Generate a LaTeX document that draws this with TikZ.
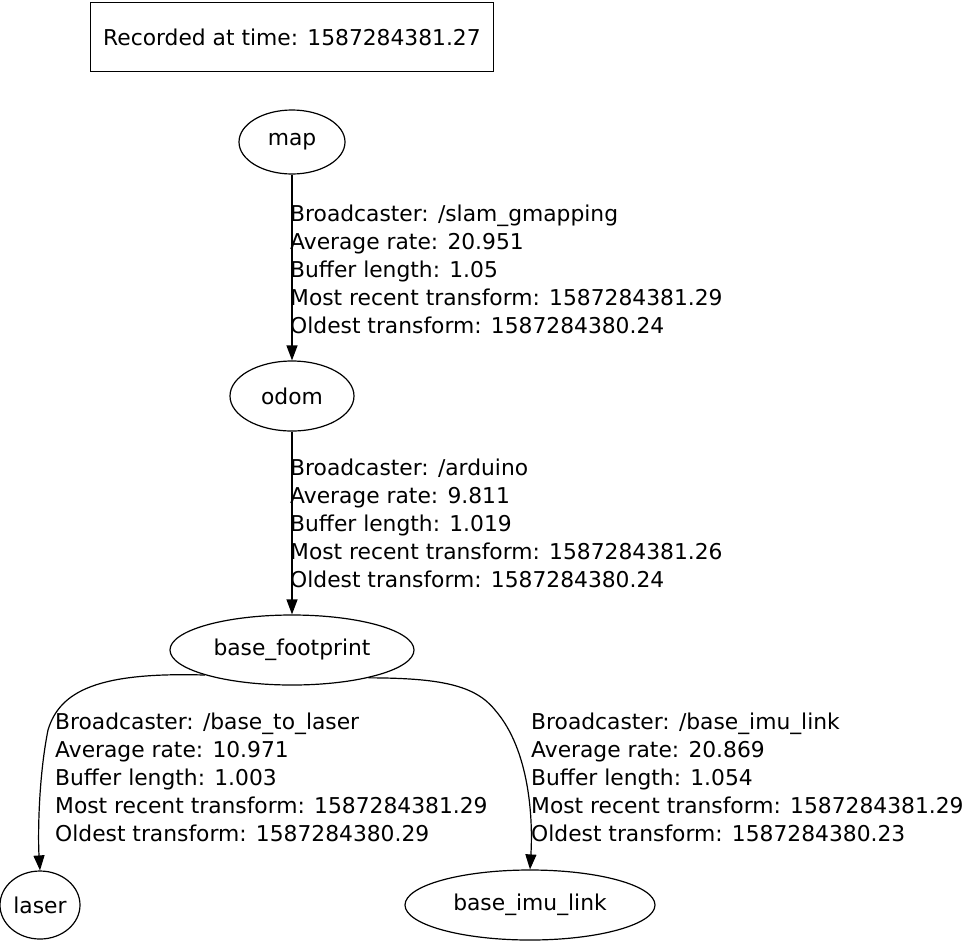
\documentclass[tikz,border=0pt]{standalone}
\usepackage{fontspec}
\setmainfont{DejaVu Sans}
\usetikzlibrary{shapes.geometric,arrows.meta}
\begin{document}
\begin{tikzpicture}[x=1pt,y=-1pt,
  nd/.style={draw,ellipse,line width=1.2pt,inner sep=0pt,font=\fontsize{21.8}{25}\selectfont},
  lbl/.style={anchor=west,align=left,inner sep=0pt,font=\fontsize{21.8}{28}\selectfont},
  ed/.style={line width=1.2pt,-{Triangle[length=15pt,width=11pt]}}]
\useasboundingbox (0,0) rectangle (965,940);
\node[draw,line width=1.2pt,minimum width=403pt,minimum height=69pt,font=\fontsize{21.8}{25}\selectfont] (rec) at (292,37) {Recorded at time: 1587284381.27};
\node[nd,minimum width=106pt,minimum height=64pt] (map) at (292,142) {map};
\node[nd,minimum width=124pt,minimum height=70pt] (odom) at (292,396) {odom};
\node[nd,minimum width=244pt,minimum height=70pt] (bf) at (292,650) {base\_footprint};
\node[nd,minimum width=80pt,minimum height=68pt] (laser) at (40,905) {laser};
\node[nd,minimum width=250pt,minimum height=70pt] (imu) at (530,905) {base\_imu\_link};
\draw[ed] (map) -- (odom);
\draw[ed] (odom) -- (bf);
\draw[ed] (bf.196) .. controls (100,672) and (60,690) .. (48,730) .. controls (38,780) and (38,840) .. (laser.north);
\draw[ed] (bf.-20) .. controls (440,678) and (475,685) .. (495,710) .. controls (530,750) and (533,820) .. (imu.north);
\node[lbl] (l1) at (290,269) {Broadcaster: /slam\_gmapping\\Average rate: 20.951\\Buffer length: 1.05\\Most recent transform: 1587284381.29\\Oldest transform: 1587284380.24};
\node[lbl] (l2) at (290,523) {Broadcaster: /arduino\\Average rate: 9.811\\Buffer length: 1.019\\Most recent transform: 1587284381.26\\Oldest transform: 1587284380.24};
\node[lbl] (l3) at (55,777) {Broadcaster: /base\_to\_laser\\Average rate: 10.971\\Buffer length: 1.003\\Most recent transform: 1587284381.29\\Oldest transform: 1587284380.29};
\node[lbl] (l4) at (531,777) {Broadcaster: /base\_imu\_link\\Average rate: 20.869\\Buffer length: 1.054\\Most recent transform: 1587284381.29\\Oldest transform: 1587284380.23};
\end{tikzpicture}
\end{document}
